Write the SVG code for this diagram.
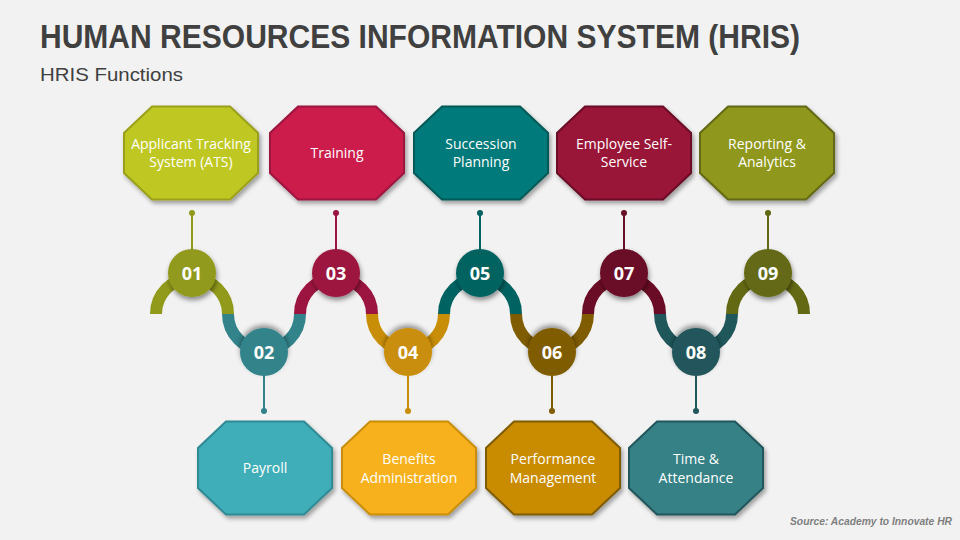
<svg xmlns="http://www.w3.org/2000/svg" width="960" height="540" viewBox="0 0 960 540">
<defs>
<filter id="oshadow" x="-20%" y="-20%" width="140%" height="150%">
<feDropShadow dx="2" dy="3" stdDeviation="2" flood-color="#000" flood-opacity="0.35"/>
</filter>
<filter id="cdown" x="-40%" y="-40%" width="180%" height="190%">
<feDropShadow dx="1" dy="3" stdDeviation="2.5" flood-color="#000" flood-opacity="0.45"/>
</filter>
<filter id="cup" x="-40%" y="-60%" width="180%" height="190%">
<feDropShadow dx="0" dy="-3" stdDeviation="2.5" flood-color="#000" flood-opacity="0.4"/>
</filter>
<polygon id="oct" points="-39,-46.5 39,-46.5 67,-20 67,20 39,46.5 -39,46.5 -67,20 -67,-20"/>
</defs>
<style>
.title{font-family:"Liberation Sans",Arial,sans-serif;font-weight:bold;font-size:34px;fill:#404040}
.sub{font-family:"Liberation Sans",Arial,sans-serif;font-size:19px;fill:#404040}
.lbl{font-family:"Open Sans","Liberation Sans",sans-serif;font-size:14px;fill:#fff;text-anchor:middle}
.num{font-family:"Open Sans","Liberation Sans",sans-serif;font-weight:bold;font-size:18px;fill:#fff;text-anchor:middle}
.src{font-family:"Liberation Sans",Arial,sans-serif;font-weight:bold;font-style:italic;font-size:10.5px;fill:#7f7f7f;text-anchor:end}
.arc{fill:none;stroke-width:12}
.pin{stroke-width:2}
.oct{stroke-width:2;filter:url(#oshadow)}
</style>
<rect width="960" height="540" fill="#f2f2f2"/>
<text class="title" x="40" y="48" textLength="760" lengthAdjust="spacingAndGlyphs">HUMAN RESOURCES INFORMATION SYSTEM (HRIS)</text>
<text class="sub" x="40" y="81" textLength="143" lengthAdjust="spacingAndGlyphs">HRIS Functions</text>

<g id="connectors">
<path class="arc" stroke="#919A1A" d="M156 314 A36 36 0 0 1 228 314"/>
<path class="arc" stroke="#32838A" d="M228 314 A36 36 0 0 0 300 314"/>
<path class="arc" stroke="#9C1540" d="M300 314 A36 36 0 0 1 372 314"/>
<path class="arc" stroke="#C98E07" d="M372 314 A36 36 0 0 0 444 314"/>
<path class="arc" stroke="#006361" d="M444 314 A36 36 0 0 1 516 314"/>
<path class="arc" stroke="#805C00" d="M516 314 A36 36 0 0 0 588 314"/>
<path class="arc" stroke="#6A0C25" d="M588 314 A36 36 0 0 1 660 314"/>
<path class="arc" stroke="#20575B" d="M660 314 A36 36 0 0 0 732 314"/>
<path class="arc" stroke="#636913" d="M732 314 A36 36 0 0 1 804 314"/>
</g>

<g id="step01">
<use href="#oct" x="191" y="153" class="oct" fill="#BFC823" stroke="#9BA01A"/>
<text class="lbl" x="191" y="149">Applicant Tracking</text>
<text class="lbl" x="191" y="167">System (ATS)</text>
<line class="pin" x1="192" y1="213" x2="192" y2="250" stroke="#919A1A"/>
<circle cx="192" cy="213" r="3" fill="#919A1A"/>
<circle cx="192" cy="273" r="24" fill="#919A1A" filter="url(#cdown)"/>
<text class="num" x="192" y="279.5">01</text>
</g>

<g id="step02">
<use href="#oct" x="265" y="468" class="oct" fill="#40AEB8" stroke="#2F8A93"/>
<text class="lbl" x="265" y="473">Payroll</text>
<line class="pin" x1="264" y1="376" x2="264" y2="411" stroke="#32838A"/>
<circle cx="264" cy="411" r="3" fill="#32838A"/>
<circle cx="264" cy="352" r="24" fill="#32838A" filter="url(#cup)"/>
<text class="num" x="264" y="358.5">02</text>
</g>

<g id="step03">
<use href="#oct" x="337" y="153" class="oct" fill="#CC1A4B" stroke="#9C1540"/>
<text class="lbl" x="337" y="158">Training</text>
<line class="pin" x1="336" y1="213" x2="336" y2="250" stroke="#9C1540"/>
<circle cx="336" cy="213" r="3" fill="#9C1540"/>
<circle cx="336" cy="273" r="24" fill="#9C1540" filter="url(#cdown)"/>
<text class="num" x="336" y="279.5">03</text>
</g>

<g id="step04">
<use href="#oct" x="409" y="468" class="oct" fill="#F7B11C" stroke="#C98E07"/>
<text class="lbl" x="409" y="464">Benefits</text>
<text class="lbl" x="409" y="483">Administration</text>
<line class="pin" x1="408" y1="376" x2="408" y2="411" stroke="#C98E07"/>
<circle cx="408" cy="411" r="3" fill="#C98E07"/>
<circle cx="408" cy="352" r="24" fill="#C98E07" filter="url(#cup)"/>
<text class="num" x="408" y="358.5">04</text>
</g>

<g id="step05">
<use href="#oct" x="481" y="153" class="oct" fill="#007A7A" stroke="#005A58"/>
<text class="lbl" x="481" y="149">Succession</text>
<text class="lbl" x="481" y="167">Planning</text>
<line class="pin" x1="480" y1="213" x2="480" y2="250" stroke="#006361"/>
<circle cx="480" cy="213" r="3" fill="#006361"/>
<circle cx="480" cy="273" r="24" fill="#006361" filter="url(#cdown)"/>
<text class="num" x="480" y="279.5">05</text>
</g>

<g id="step06">
<use href="#oct" x="553" y="468" class="oct" fill="#C98B05" stroke="#7F5C00"/>
<text class="lbl" x="553" y="464">Performance</text>
<text class="lbl" x="553" y="483">Management</text>
<line class="pin" x1="552" y1="376" x2="552" y2="411" stroke="#805C00"/>
<circle cx="552" cy="411" r="3" fill="#805C00"/>
<circle cx="552" cy="352" r="24" fill="#805C00" filter="url(#cup)"/>
<text class="num" x="552" y="358.5">06</text>
</g>

<g id="step07">
<use href="#oct" x="624" y="153" class="oct" fill="#9A1338" stroke="#6A0C25"/>
<text class="lbl" x="624" y="149">Employee Self-</text>
<text class="lbl" x="624" y="167">Service</text>
<line class="pin" x1="624" y1="213" x2="624" y2="250" stroke="#6A0C25"/>
<circle cx="624" cy="213" r="3" fill="#6A0C25"/>
<circle cx="624" cy="273" r="24" fill="#6A0C25" filter="url(#cdown)"/>
<text class="num" x="624" y="279.5">07</text>
</g>

<g id="step08">
<use href="#oct" x="696" y="468" class="oct" fill="#348186" stroke="#20575B"/>
<text class="lbl" x="696" y="464">Time &amp;</text>
<text class="lbl" x="696" y="483">Attendance</text>
<line class="pin" x1="696" y1="376" x2="696" y2="411" stroke="#20575B"/>
<circle cx="696" cy="411" r="3" fill="#20575B"/>
<circle cx="696" cy="352" r="24" fill="#20575B" filter="url(#cup)"/>
<text class="num" x="696" y="358.5">08</text>
</g>

<g id="step09">
<use href="#oct" x="767" y="153" class="oct" fill="#8F971A" stroke="#636913"/>
<text class="lbl" x="767" y="149">Reporting &amp;</text>
<text class="lbl" x="767" y="167">Analytics</text>
<line class="pin" x1="768" y1="213" x2="768" y2="250" stroke="#636913"/>
<circle cx="768" cy="213" r="3" fill="#636913"/>
<circle cx="768" cy="273" r="24" fill="#636913" filter="url(#cdown)"/>
<text class="num" x="768" y="279.5">09</text>
</g>

<text class="src" x="952" y="525" textLength="162" lengthAdjust="spacingAndGlyphs">Source: Academy to Innovate HR</text>
</svg>
